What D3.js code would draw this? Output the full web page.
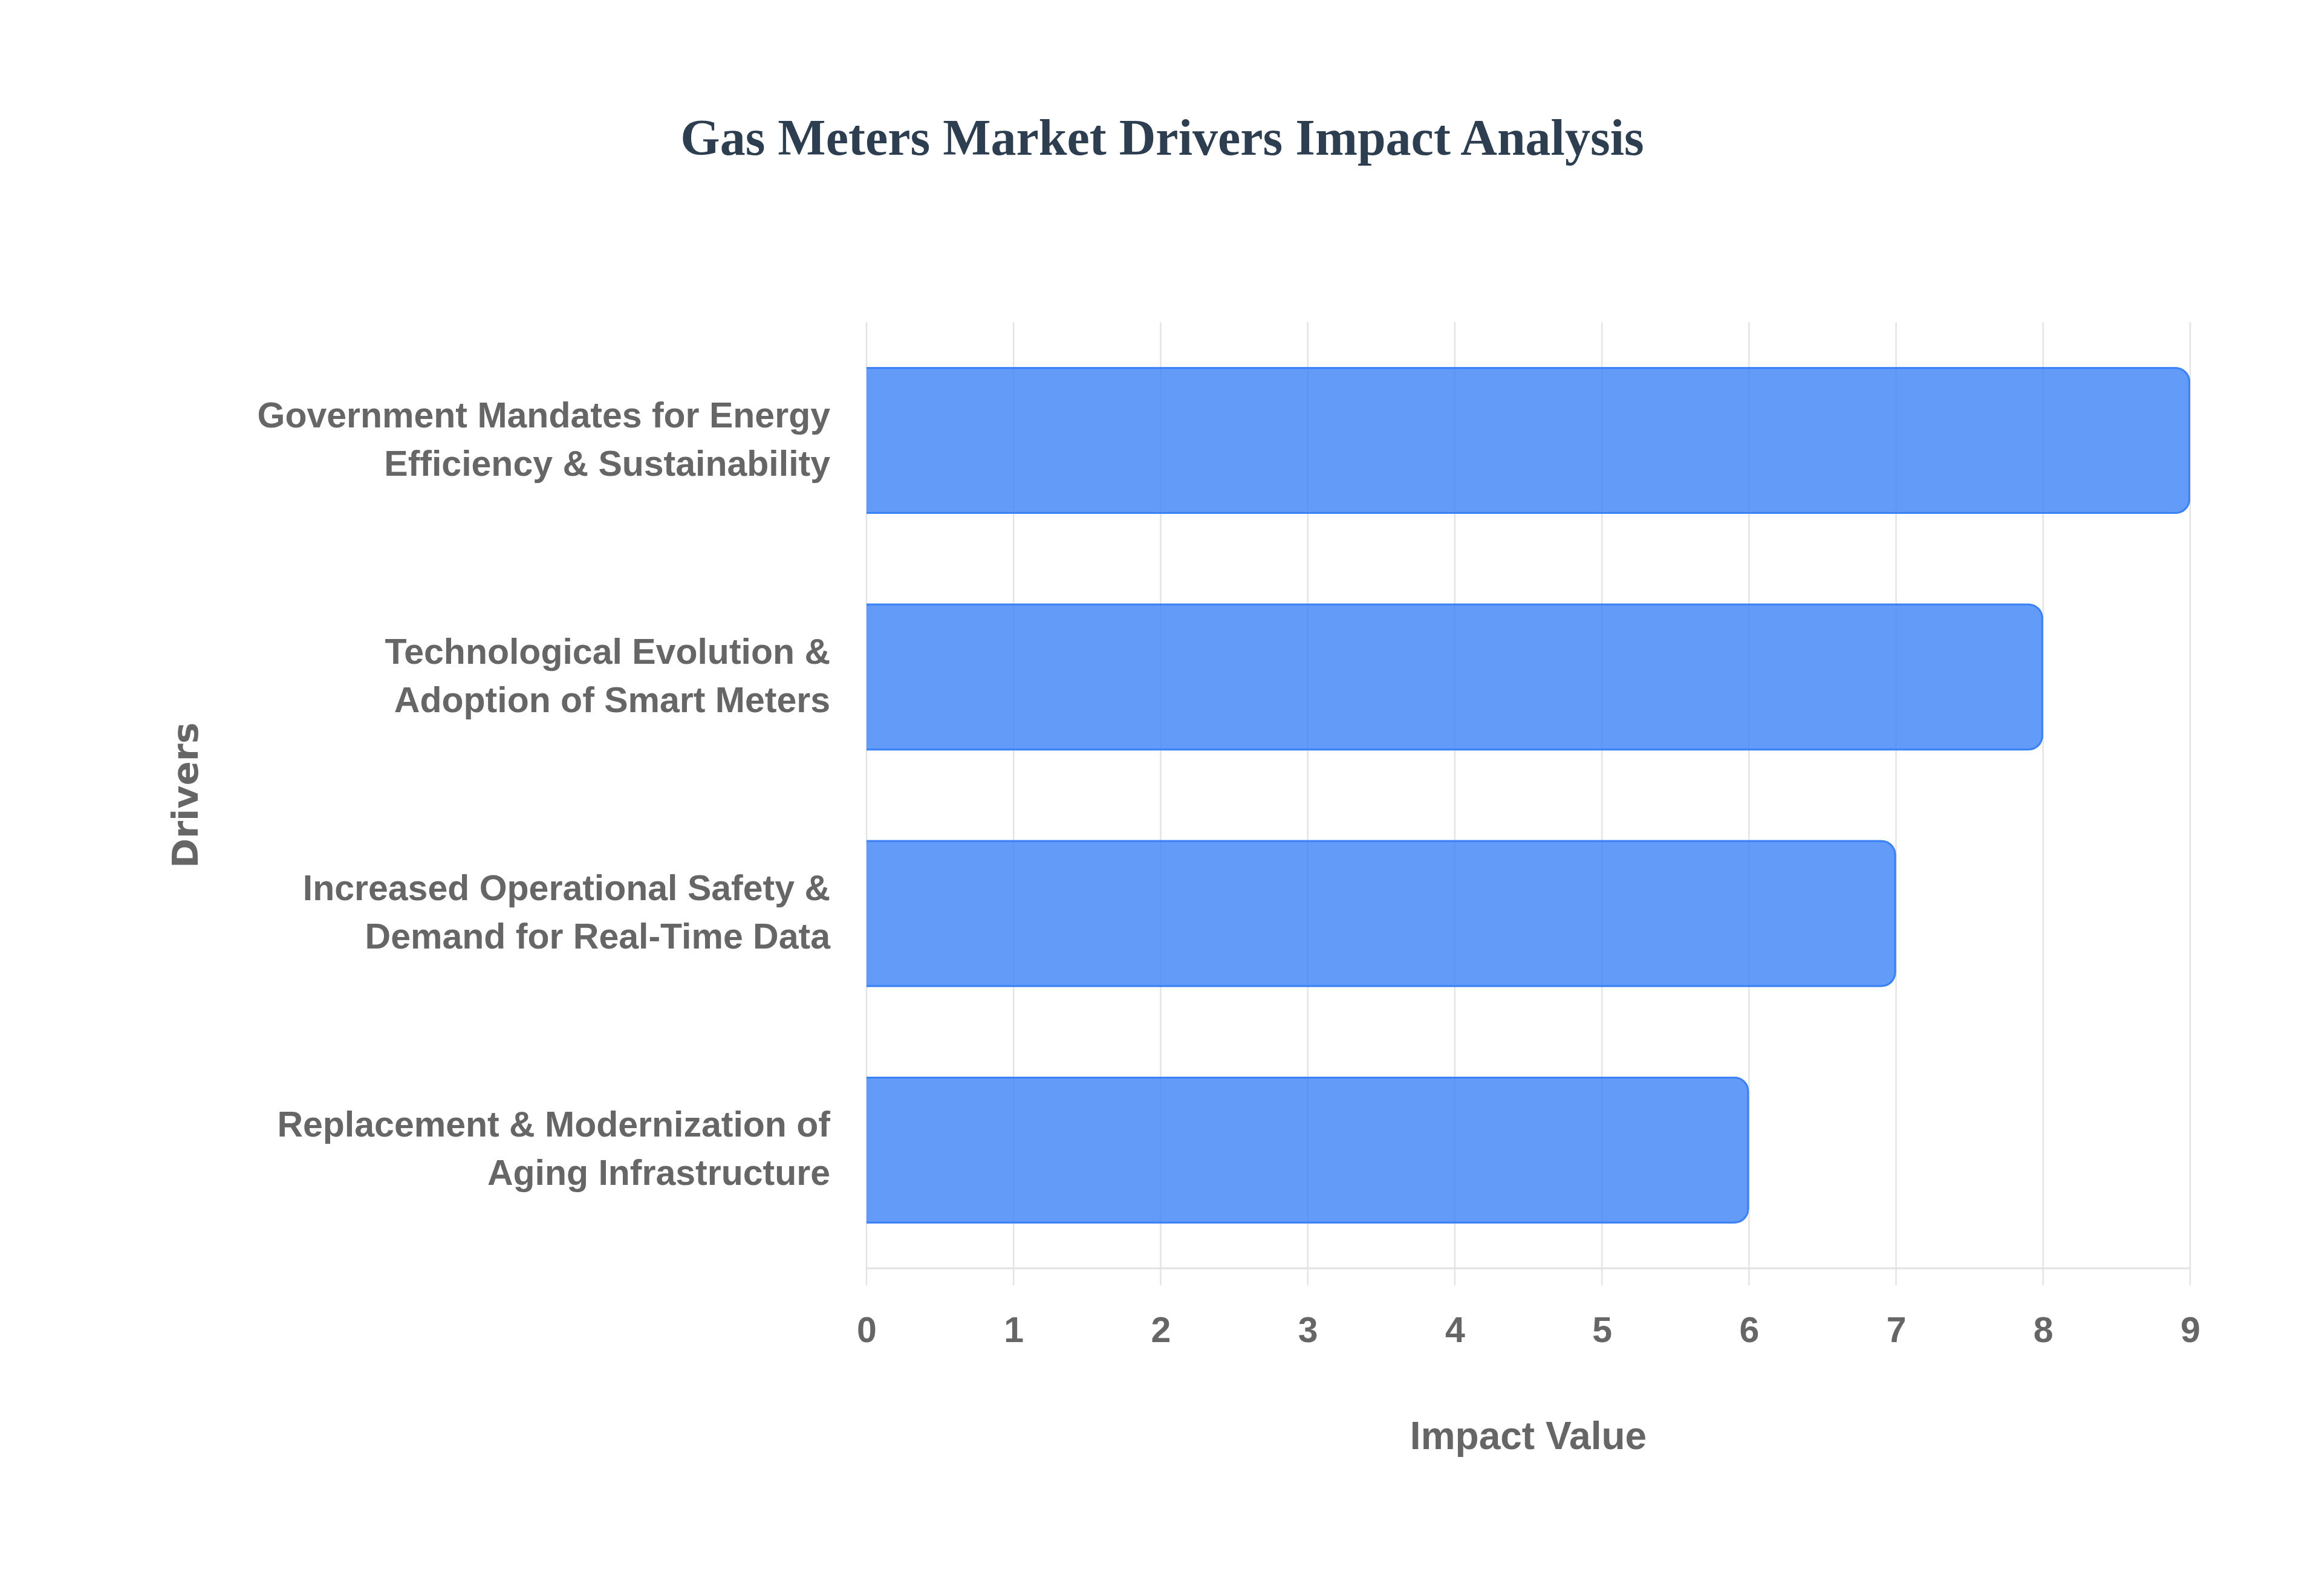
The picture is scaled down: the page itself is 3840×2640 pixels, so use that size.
<!DOCTYPE html>
<html>
<head>
<meta charset="utf-8">
<script src="https://cdn.jsdelivr.net/npm/d3@7"></script>
<style>
  body { margin: 0; background: #fff; }
  svg { display: block; }
</style>
</head>
<body>
<script>
const width = 3840;
const height = 2640;

// chart data
const drivers = [
  ['Government Mandates for Energy', 'Efficiency & Sustainability'],
  ['Technological Evolution &', 'Adoption of Smart Meters'],
  ['Increased Operational Safety &', 'Demand for Real-Time Data'],
  ['Replacement & Modernization of', 'Aging Infrastructure']
];
const impactValues = [9, 8, 7, 6];
const xTicks = [0, 1, 2, 3, 4, 5, 6, 7, 8, 9];

const chartTitle = 'Gas Meters Market Drivers Impact Analysis';
const xTitle = 'Impact Value';
const yTitle = 'Drivers';

const plot = { left: 1433, right: 3622, top: 533, bottom: 2098 };
const labelFont = '"Liberation Sans", Arial, Helvetica, sans-serif';

function main() {
  const svg = createSvg();
  const keys = drivers.map(d => d.join(' '));

  const x = d3.scaleLinear().domain([0, 9]).range([plot.left, plot.right]);
  const y = d3.scaleBand()
    .domain(keys)
    .range([plot.top, plot.bottom])
    .paddingInner(0.38)
    .paddingOuter(0.19);

  drawGrid(svg, x);
  drawBars(svg, x, y, keys);
  drawXAxis(svg, x);
  drawYLabels(svg, y, keys);
  drawTitles(svg);
}

function createSvg() {
  return d3.select('body').append('svg').attr('width', width).attr('height', height);
}

function drawGrid(svg, x) {
  const grid = svg.append('g').attr('class', 'grid');

  grid.selectAll('line')
    .data(xTicks)
    .enter()
    .append('line')
    .attr('x1', d => x(d))
    .attr('x2', d => x(d))
    .attr('y1', plot.top)
    .attr('y2', plot.bottom + 28)
    .attr('stroke', '#e4e4e4')
    .attr('stroke-width', 2.5);

  // bottom border of the plot
  grid.append('line')
    .attr('x1', plot.left)
    .attr('x2', plot.right)
    .attr('y1', plot.bottom)
    .attr('y2', plot.bottom)
    .attr('stroke', '#e2e2e2')
    .attr('stroke-width', 3);
}

function barPath(x0, x1, y0, y1, r) {
  return `M${x0},${y0} H${x1 - r} A${r},${r} 0 0 1 ${x1},${y0 + r} ` +
    `V${y1 - r} A${r},${r} 0 0 1 ${x1 - r},${y1} H${x0}`;
}

function drawBars(svg, x, y, keys) {
  const bars = svg.append('g').attr('class', 'bars');
  const radius = 24;
  const bw = 3;

  const rows = keys.map((k, i) => ({ key: k, value: impactValues[i] }));

  bars.selectAll('path.fill')
    .data(rows)
    .enter()
    .append('path')
    .attr('class', 'fill')
    .attr('d', d => barPath(x(0), x(d.value), y(d.key), y(d.key) + y.bandwidth(), radius) + ' Z')
    .attr('fill', 'rgba(59, 130, 246, 0.8)');

  // border on top, end and bottom only (start side skipped)
  bars.selectAll('path.edge')
    .data(rows)
    .enter()
    .append('path')
    .attr('class', 'edge')
    .attr('d', d => barPath(x(0), x(d.value) - bw / 2, y(d.key) + bw / 2,
      y(d.key) + y.bandwidth() - bw / 2, radius - bw / 2))
    .attr('fill', 'none')
    .attr('stroke', 'rgb(59, 130, 246)')
    .attr('stroke-width', bw);
}

function drawXAxis(svg, x) {
  const axis = svg.append('g')
    .attr('transform', `translate(0,${plot.bottom})`)
    .call(d3.axisBottom(x).tickValues(xTicks).tickSize(28).tickPadding(52).tickFormat(d3.format('d')));

  axis.select('.domain').remove();
  axis.selectAll('.tick line').remove();
  axis.selectAll('.tick text')
    .attr('fill', '#666')
    .style('font-family', labelFont)
    .style('font-weight', 'bold')
    .style('font-size', '59px');
}

function drawYLabels(svg, y, keys) {
  const labels = svg.append('g').attr('class', 'y-labels');

  const groups = labels.selectAll('text')
    .data(drivers)
    .enter()
    .append('text')
    .attr('text-anchor', 'end')
    .attr('fill', '#666')
    .style('font-family', labelFont)
    .style('font-weight', 'bold')
    .style('font-size', '59px');

  groups.each(function (lines, i) {
    const center = y(keys[i]) + y.bandwidth() / 2;
    d3.select(this)
      .selectAll('tspan')
      .data(lines)
      .enter()
      .append('tspan')
      .attr('x', plot.left - 60)
      .attr('y', (_, j) => center - 22 + j * 80)
      .text(d => d);
  });
}

function drawTitles(svg) {
  svg.append('text')
    .attr('x', 1922)
    .attr('y', 256)
    .attr('text-anchor', 'middle')
    .attr('fill', '#2c3e50')
    .style('font-family', '"Liberation Serif", "Times New Roman", serif')
    .style('font-weight', 'bold')
    .style('font-size', '84px')
    .text(chartTitle);

  svg.append('text')
    .attr('x', (plot.left + plot.right) / 2)
    .attr('y', 2397)
    .attr('text-anchor', 'middle')
    .attr('fill', '#666')
    .style('font-family', labelFont)
    .style('font-weight', 'bold')
    .style('font-size', '64px')
    .text(xTitle);

  svg.append('text')
    .attr('transform', `translate(327,${(plot.top + plot.bottom) / 2}) rotate(-90)`)
    .attr('text-anchor', 'middle')
    .attr('fill', '#666')
    .style('font-family', '"DejaVu Sans", Verdana, sans-serif')
    .style('font-weight', 'bold')
    .style('font-size', '59px')
    .text(yTitle);
}

main();
</script>
</body>
</html>
